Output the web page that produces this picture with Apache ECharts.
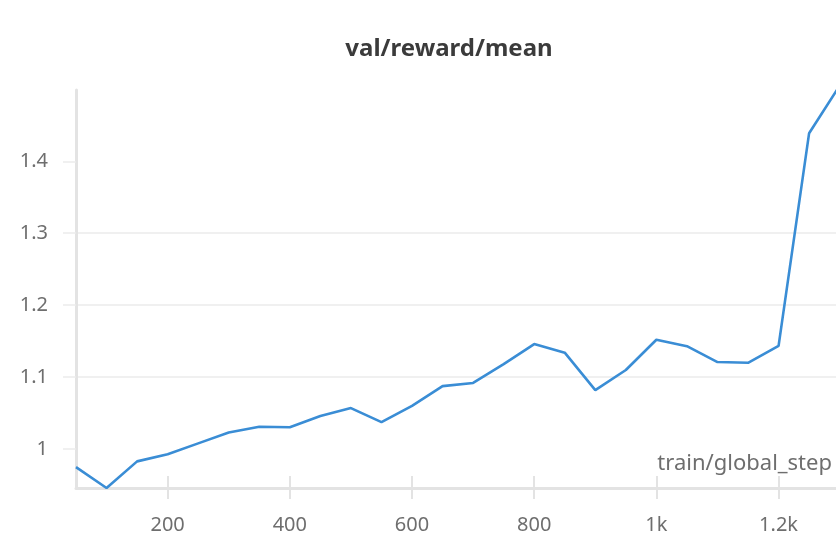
<!DOCTYPE html>
<html>
<head>
<meta charset="utf-8">
<script src="https://cdn.jsdelivr.net/npm/echarts@6/dist/echarts.min.js"></script>
<style>html,body{margin:0;padding:0;background:#fff}#c{width:836px;height:554px}</style>
</head>
<body>
<div id="c"></div>
<script>
const titleText = 'val/reward/mean';
const xAxisName = 'train/global_step';
const steps = [50,100,150,200,250,300,350,400,450,500,550,600,650,700,750,800,850,900,950,1000,1050,1100,1150,1200,1250,1300];
const rewardMean = [0.975,0.946,0.983,0.993,1.008,1.023,1.031,1.0305,1.046,1.057,1.0375,1.06,1.0875,1.092,1.118,1.146,1.134,1.082,1.11,1.152,1.143,1.121,1.120,1.1435,1.439,1.505];
const xTicks = [200,400,600,800,1000,1200];
const xTickLabels = ['200','400','600','800','1k','1.2k'];
const yTicks = [1,1.1,1.2,1.3,1.4];
const yTickLabels = ['1','1.1','1.2','1.3','1.4'];
const xMin = 50, xMax = 1294;
const yMin = 0.946, yMax = 1.499;

const FONT = '"Noto Sans", sans-serif';
const gridColor = '#ebebeb';
const axisColor = '#e3e3e3';
const labelColor = '#6e6e6e';

const chart = echarts.init(document.getElementById('c'), null, {renderer:'canvas'});
const baseX = {
  type: 'value', min: xMin, max: xMax, position: 'bottom',
  splitLine: {show: false}
};
chart.setOption({
  animation: false,
  backgroundColor: '#ffffff',
  title: {
    text: titleText, left: 444, top: 32, textAlign: 'center',
    textStyle: {fontFamily: FONT, fontSize: 24, fontWeight: 'bold', color: '#3b3b3b'}
  },
  grid: {left: 76, right: 0, top: 90, bottom: 66, containLabel: false},
  xAxis: [
    Object.assign({}, baseX, {
      axisLine: {show: true, lineStyle: {color: axisColor, width: 3}},
      axisTick: {show: true, inside: false, length: 11, customValues: xTicks, lineStyle: {color: axisColor, width: 2}},
      axisLabel: {
        show: true, margin: 27, customValues: xTicks,
        fontFamily: FONT, fontSize: 20, color: labelColor,
        formatter: v => { const i = xTicks.indexOf(v); return i >= 0 ? xTickLabels[i] : ''; }
      }
    }),
    Object.assign({}, baseX, {
      axisLine: {show: false},
      axisTick: {show: true, inside: true, length: 12, customValues: xTicks, lineStyle: {color: axisColor, width: 2}},
      axisLabel: {show: false}
    })
  ],
  yAxis: {
    type: 'value', min: yMin, max: yMax,
    axisLine: {show: true, lineStyle: {color: axisColor, width: 3}},
    axisTick: {show: true, inside: false, length: 13, customValues: yTicks, lineStyle: {color: gridColor, width: 1.5}},
    axisLabel: {
      show: true, margin: 28, customValues: yTicks,
      fontFamily: FONT, fontSize: 20, color: labelColor,
      formatter: v => { const i = yTicks.findIndex(t => Math.abs(t - v) < 1e-9); return i >= 0 ? yTickLabels[i] : ''; }
    },
    splitLine: {show: true, showMinLine: false, showMaxLine: false, lineStyle: {color: gridColor, width: 1.5}}
  },
  graphic: [{
    type: 'text', right: 4, top: 453,
    style: {text: xAxisName, font: '22px "Noto Sans", sans-serif', fill: labelColor}
  }],
  series: [{
    type: 'line', xAxisIndex: 0,
    data: steps.map((s, i) => [s, rewardMean[i]]),
    showSymbol: false, clip: true,
    lineStyle: {color: '#3a8dd5', width: 2.6},
    itemStyle: {color: '#3a8dd5'}
  }]
});
</script>
</body>
</html>
